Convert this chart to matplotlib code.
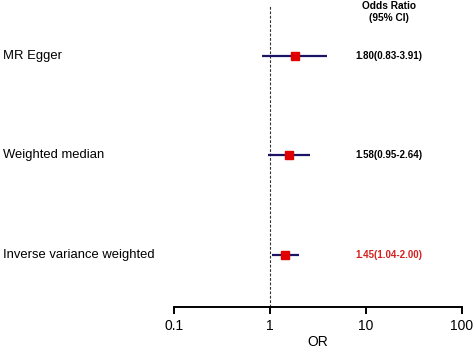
import matplotlib
matplotlib.use("Agg")
import matplotlib.pyplot as plt
from matplotlib.ticker import FixedLocator, FixedFormatter, NullLocator

methods = ["MR Egger", "Weighted median", "Inverse variance weighted"]
or_vals = [1.80, 1.58, 1.45]
ci_low = [0.83, 0.95, 1.04]
ci_high = [3.91, 2.64, 2.00]
labels = ["1.80(0.83-3.91)", "1.58(0.95-2.64)", "1.45(1.04-2.00)"]
label_colors = ["black", "black", "#d42020"]
xticks = [0.1, 1, 10, 100]
xticklabels = ["0.1", "1", "10", "100"]

plt.rcParams['font.family'] = ['Liberation Sans', 'DejaVu Sans']

fig = plt.figure(figsize=(4.74, 3.51), dpi=100)
ax = fig.add_axes([174/474, 44/351, (462-174)/474, (346-44)/351])
ax.set_xscale('log')
ax.set_xlim(0.1, 100)
ax.set_ylim(0.477, 3.51)

ypos = [3, 2, 1]
for y, o, lo, hi in zip(ypos, or_vals, ci_low, ci_high):
    ax.plot([lo, hi], [y, y], color='#1b1464', lw=1.6, solid_capstyle='butt', zorder=2)
    ax.plot([o], [y], marker='s', color='#e00000', markersize=5.2, zorder=3, linestyle='none')

ax.axvline(1, color='#333333', lw=0.8, linestyle=(0, (2.5, 1.5)), zorder=1)

for s in ['top', 'right', 'left']:
    ax.spines[s].set_visible(False)
ax.spines['bottom'].set_linewidth(1.4)
ax.yaxis.set_visible(False)
ax.xaxis.set_major_locator(FixedLocator(xticks))
ax.xaxis.set_major_formatter(FixedFormatter(xticklabels))
ax.xaxis.set_minor_locator(NullLocator())
ax.tick_params(axis='x', direction='out', length=5, width=1.4, labelsize=10, pad=4)
ax.set_xlabel("OR", fontsize=10, labelpad=1)

for y, m in zip(ypos, methods):
    fig.text(3/474, ax.transData.transform((1, y))[1]/351, m, fontsize=9.4,
             va='center', ha='left')

for y, l, c in zip(ypos, labels, label_colors):
    fig.text(389/474, ax.transData.transform((1, y))[1]/351, l, fontsize=7,
             fontweight='bold', va='center', ha='center', color=c)

fig.text(389/474, 1 - 12/351, "Odds Ratio\n(95% CI)", fontsize=7.3, fontweight='bold',
         ha='center', va='center', linespacing=1.35)

fig.savefig("out.png", dpi=100)
